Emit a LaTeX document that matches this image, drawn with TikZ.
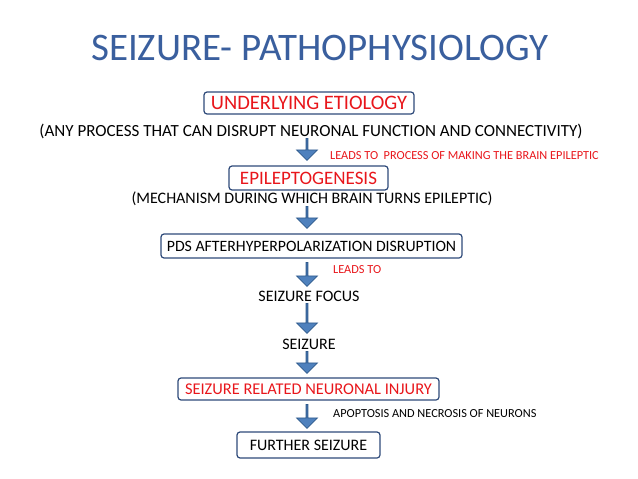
\documentclass[tikz,border=0pt]{standalone}
\usepackage{fontspec}
\setmainfont{Carlito}
\usetikzlibrary{shapes.arrows}
\definecolor{ttl}{HTML}{3A5F9E}
\definecolor{bord}{HTML}{2E4A7A}
\definecolor{afill}{HTML}{4F81BD}
\definecolor{aline}{HTML}{2F5A8C}
\definecolor{rd}{HTML}{E8161B}
\tikzset{
 boxed/.style={draw=bord,line width=1.2pt,rounded corners=3pt,inner sep=0pt,minimum height=22pt},
 txt/.style={font=\fontsize{17}{17}\selectfont,inner sep=0pt},
 sm/.style={font=\fontsize{12.3}{12}\selectfont,text=rd,inner sep=0pt,anchor=west},
 barrow/.style={single arrow,draw=aline,fill=afill,line width=0.8pt,shape border rotate=270,
   minimum width=21pt,single arrow head extend=4.5pt,single arrow head indent=0pt,inner sep=0pt}
}
\newcommand{\barr}[3]{\node[barrow,minimum height=#3pt] (#1) at #2 {};}
\begin{document}
\begin{tikzpicture}[x=1pt,y=-1pt]
\useasboundingbox (0,0) rectangle (638,479);
\node[text=ttl,font=\fontsize{39}{39}\selectfont] (title) at (320,48) {SEIZURE- PATHOPHYSIOLOGY};
\node[boxed,minimum width=210pt,text=rd,font=\fontsize{20.5}{20}\selectfont] (ue) at (309,103) {UNDERLYING ETIOLOGY};
\node[txt] (any) at (311,131) {(ANY PROCESS THAT CAN DISRUPT NEURONAL FUNCTION AND CONNECTIVITY)};
\barr{a1}{(307,149)}{22}
\node[sm] (l1) at (330,156) {LEADS TO \ PROCESS OF MAKING THE BRAIN EPILEPTIC};
\node[boxed,minimum width=159pt,minimum height=24pt,text=rd,font=\fontsize{19}{19}\selectfont] (ep) at (308.5,178) {EPILEPTOGENESIS};
\node[txt,font=\fontsize{16}{16}\selectfont] (mech) at (312,199) {(MECHANISM DURING WHICH BRAIN TURNS EPILEPTIC)};
\barr{a2}{(307,217)}{22}
\node[boxed,minimum width=301pt,minimum height=24pt,font=\fontsize{15.8}{16}\selectfont] (pds) at (311.5,246) {PDS AFTERHYPERPOLARIZATION DISRUPTION};
\barr{a3}{(307,274)}{24}
\node[sm] (l2) at (333,270) {LEADS TO};
\node[txt,font=\fontsize{16}{16}\selectfont] (focus) at (309,296) {SEIZURE FOCUS};
\barr{a4}{(307,318)}{30}
\node[txt,font=\fontsize{16}{16}\selectfont] (sz) at (309,344) {SEIZURE};
\barr{a5}{(307,362)}{22}
\node[boxed,minimum width=261pt,text=rd,font=\fontsize{16.4}{16}\selectfont] (inj) at (308.5,389) {SEIZURE RELATED NEURONAL INJURY};
\barr{a6}{(307,416)}{24}
\node[sm,text=black] (apo) at (333,414) {APOPTOSIS AND NECROSIS OF NEURONS};
\node[boxed,minimum width=143pt,minimum height=26pt,font=\fontsize{16}{16}\selectfont] (fs) at (308.5,445) {FURTHER SEIZURE};
\end{tikzpicture}
\end{document}
